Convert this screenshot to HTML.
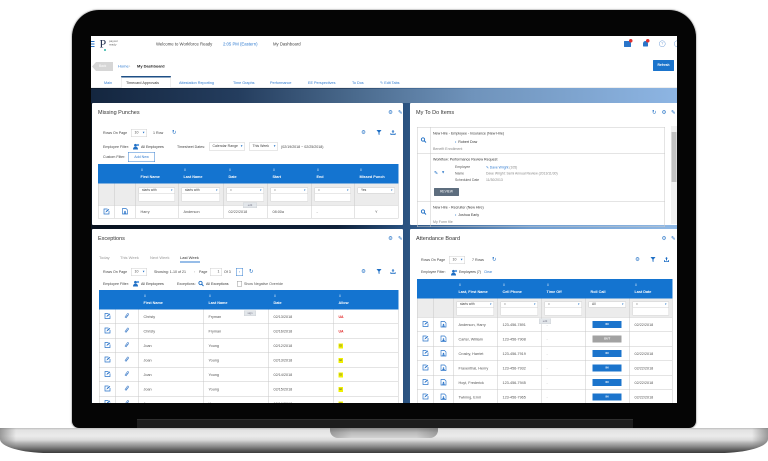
<!DOCTYPE html>
<html><head><meta charset="utf-8">
<style>
*{margin:0;padding:0;box-sizing:border-box}
html,body{width:768px;height:461px;background:#fff;overflow:hidden}
body{position:relative;font-family:"Liberation Sans","DejaVu Sans",sans-serif}
#bezel{position:absolute;left:72px;top:10px;width:624px;height:418px;background:#050505;border-radius:27px 27px 7px 7px;box-shadow:0 0 0 1px #d0d0d0,0 0 2px 1px #e6e6e6}
#hinge{position:absolute;left:137px;top:419px;width:496px;height:9px;background:#1d1d1d;border-top:1px solid #2f2f2f}
#base{position:absolute;left:0;top:428px;width:768px;height:25px;border-radius:0 0 48px 48px/0 0 14px 14px;background:linear-gradient(to bottom,#bdbdbd 0,#e2e2e2 2px,#ebebeb 8px,#dadada 12px,#b2b2b2 15px,#848484 19px,#505050 23px,#3a3a3a 25px);overflow:hidden}
#base:before{content:"";position:absolute;left:0;top:0;width:768px;height:25px;background:linear-gradient(to right,rgba(110,110,110,.65) 0,rgba(255,255,255,0) 16px,rgba(255,255,255,0) 752px,rgba(110,110,110,.65) 768px)}
#notch{position:absolute;left:330px;top:428px;width:108px;height:10px;border-radius:0 0 8px 8px;background:linear-gradient(to bottom,#8a8a8a 0,#b9b9b9 45%,#d2d2d2 100%)}
#notch:before{content:"";position:absolute;inset:0;border-radius:0 0 8px 8px;background:linear-gradient(to right,rgba(90,90,90,.35),rgba(255,255,255,0) 20%,rgba(255,255,255,0) 80%,rgba(90,90,90,.35))}
#screen{position:absolute;left:91px;top:36px;width:586px;height:367px;overflow:hidden;background:#0c1a30}
#s{position:absolute;left:0;top:0;width:1172px;height:734px;transform:scale(.5);transform-origin:0 0;font-size:7.2px;color:#555;background:linear-gradient(to right,#08121f 0%,#0f2139 42%,#28507e 53%,#6f9dd0 75%,#8fb8e4 100%)}
#s .a{position:absolute;white-space:nowrap;line-height:1}
.ic{position:absolute;color:#1f6fc5;font-family:"DejaVu Sans",sans-serif;line-height:1}
.pan{position:absolute;background:#fff;border-radius:2px}
.ttl{font-size:11px;color:#333}
.sel{position:absolute;height:16px;border:1px solid #cfcfcf;background:#fff;font-size:7px;color:#444;padding:3px 0 0 6px;line-height:1}
.sel i{position:absolute;right:4px;top:3px;font-style:normal;color:#1f6fc5;font-family:"DejaVu Sans",sans-serif;font-size:7px}
table{position:absolute;border-collapse:collapse;table-layout:fixed}
td{border:1px solid #c9c9c9;font-size:7.5px;color:#555;padding-left:10px;white-space:nowrap;overflow:hidden;background:#fff}
tr.h td{background:#1474d0;border-color:#1474d0;color:#fff;font-weight:bold;vertical-align:top;padding-top:7px}
tr.h .ar{font-size:7px;line-height:9px;height:9px;font-weight:normal;color:#cfe3f7;font-family:"DejaVu Sans",sans-serif;margin-bottom:4px}
tr.f td{background:#ececec;vertical-align:top;padding:8px 6px 0 6px}
.fs{position:relative;height:12px;background:#fff;border:1px solid #d0d0d0;font-size:6.5px;color:#444;padding:2px 0 0 6px;line-height:1}
.fs i{position:absolute;right:4px;top:2px;font-style:normal;color:#1f6fc5;font-family:"DejaVu Sans",sans-serif;font-size:6px}
.fi{height:16px;background:#fff;border:1px solid #d8d8d8;border-top:none}
td.c{padding-left:0;text-align:center}
.ua{color:#e02020;font-weight:bold;font-size:7px}
.ei{display:inline-block;background:#f0f000;color:#555;font-size:6px;width:9px;height:10px;line-height:10px;text-align:center}
.in{display:block;margin-left:14px;width:58px;height:14px;background:#1b74cc;color:#fff;font-size:6px;text-align:center;line-height:14px;font-weight:bold}
.out{background:#a2a2a2}
.tip{position:absolute;background:#e2e6ea;color:#778;font-size:5.5px;text-align:center;line-height:11px;height:11px;border:1px solid #d0d4d8}
</style></head><body>

<div id="bezel"></div>
<div id="hinge"></div>
<div id="base"></div>
<div id="notch"></div>

<div id="screen"><div id="s">
  <div class="a" style="left:0;top:0;width:1172px;height:104px;background:#fff;border-bottom:1px solid #dcdcdc"></div>
  <div class="a" style="left:0;top:10px;width:7px;height:2px;background:#2a74c9"></div>
  <div class="a" style="left:0;top:15px;width:7px;height:2px;background:#2a74c9"></div>
  <div class="a" style="left:0;top:20px;width:7px;height:2px;background:#2a74c9"></div>
  <div class="a" style="left:17px;top:4px;font-size:24px;color:#1f2d4d;font-family:'Liberation Serif',serif">P</div>
  <div class="a" style="left:26px;top:26px;width:4px;height:4px;border-radius:2px;background:#2bb3a3"></div>
  <div class="a" style="left:36px;top:8px;font-size:6px;color:#666;line-height:7px">paycor<br>ready</div>
  <div class="a" style="left:130px;top:12px;font-size:8.5px;color:#444">Welcome to Workforce Ready</div>
  <div class="a" style="left:264px;top:12px;font-size:8.5px;color:#2f7bd0">2:05 PM (Eastern)</div>
  <div class="a" style="left:364px;top:12px;font-size:8.5px;color:#444">My Dashboard</div>
  <div class="a" style="left:1066px;top:10px;width:14px;height:12px;background:#2a75c9;border-radius:1px"></div>
  <div class="a" style="left:1076px;top:6px;width:7px;height:7px;border-radius:4px;background:#e03030"></div>
  <div class="a" style="left:1104px;top:10px;width:10px;height:11px;background:#2a75c9;border-radius:5px 5px 1px 1px"></div>
  <div class="a" style="left:1110px;top:6px;width:7px;height:7px;border-radius:4px;background:#e03030"></div>
  <div class="a" style="left:1136px;top:9px;width:13px;height:13px;border-radius:7px;border:1.5px solid #6a9ad6;color:#6a9ad6;font-size:8px;text-align:center;line-height:10px">?</div>
  <div class="a" style="left:1166px;top:9px;width:13px;height:13px;border-radius:7px;border:1.5px solid #6a9ad6"></div>
  <div class="a" style="left:2px;top:52px;width:42px;height:18px;background:#d6d6d6;clip-path:polygon(8px 0,100% 0,100% 100%,8px 100%,0 50%);color:#fff;font-size:6.5px;padding:6px 0 0 14px">Back</div>
  <div class="a" style="left:54px;top:57px;font-size:8px;color:#2f7bd0">Home</div>
  <div class="a" style="left:76px;top:57px;font-size:8px;color:#999">›</div>
  <div class="a" style="left:92px;top:57px;font-size:8px;color:#222;font-weight:bold">My Dashboard</div>
  <div class="a" style="left:1124px;top:48px;width:42px;height:22px;background:#1b74cc;color:#fff;font-size:6.5px;font-weight:bold;text-align:center;line-height:22px;border-radius:1px">Refresh</div>
  <div class="a" style="left:60px;top:80px;width:100px;height:24px;background:#fff;border-top:3px solid #1e4f86;border-left:1px solid #ddd;border-right:1px solid #ddd"></div>
  <div class="a" style="left:26px;top:90px;font-size:7.5px;color:#2f7bd0">Main</div>
  <div class="a" style="left:70px;top:90px;font-size:7.5px;color:#333">Timecard Approvals</div>
  <div class="a" style="left:176px;top:90px;font-size:7.5px;color:#2f7bd0">Attestation Reporting</div>
  <div class="a" style="left:284px;top:90px;font-size:7.5px;color:#2f7bd0">Time Graphs</div>
  <div class="a" style="left:358px;top:90px;font-size:7.5px;color:#2f7bd0">Performance</div>
  <div class="a" style="left:434px;top:90px;font-size:7.5px;color:#2f7bd0">EE Perspectives</div>
  <div class="a" style="left:522px;top:90px;font-size:7.5px;color:#2f7bd0">To Dos</div>
  <div class="a" style="left:578px;top:90px;font-size:7.5px;color:#2f7bd0"><span style="font-family:'DejaVu Sans'">✎</span> Edit Tabs</div>
  <div class="a" style="left:0;top:105px;width:1172px;height:29px;background:linear-gradient(to right,#14263f 0%,#243d5e 25%,#4a6a8d 45%,#6f93bb 65%,#8db5e3 100%)"></div>

  <!-- MISSING PUNCHES -->
  <div class="pan" style="left:2px;top:134px;width:622px;height:244px"></div>
  <div class="a ttl" style="left:14px;top:148px">Missing Punches</div>
  <div class="ic" style="left:594px;top:147px;font-size:11px">⚙</div>
  <div class="ic" style="left:614px;top:147px;font-size:11px">✎</div>
  <div class="a" style="left:24px;top:190px;color:#444">Rows On Page</div>
  <div class="sel" style="left:80px;top:186px;width:32px">10<i>▾</i></div>
  <div class="a" style="left:124px;top:190px;color:#444">1 Row</div>
  <div class="ic" style="left:162px;top:187px;font-size:11px">↻</div>
  <div class="ic" style="left:540px;top:187px;font-size:11px">⚙</div>
  <svg class="a" style="left:570px;top:187px" width="12" height="12" viewBox="0 0 12 12"><path d="M1 1h10L7 6v5L5 10V6z" fill="#1f6fc5"/></svg>
  <svg class="a" style="left:598px;top:187px" width="12" height="12" viewBox="0 0 12 12"><path d="M6 1L3 4h2v4h2V4h2z M1 7v4h10V7h-1.5v2.5h-7V7z" fill="#1f6fc5"/></svg>
  <div class="a" style="left:24px;top:218px;color:#444">Employee Filter:</div>
  <svg class="a" style="left:84px;top:215px" width="14" height="12" viewBox="0 0 14 12"><circle cx="5" cy="3.5" r="2.8" fill="#1f6fc5"/><path d="M0 12c0-4 2-5.5 5-5.5s5 1.5 5 5.5z" fill="#1f6fc5"/><circle cx="10" cy="3" r="2.3" fill="#5b9be0"/></svg>
  <div class="a" style="left:100px;top:218px;color:#333">All Employees</div>
  <div class="a" style="left:172px;top:218px;color:#444">Timesheet Dates:</div>
  <div class="sel" style="left:236px;top:213px;width:72px">Calendar Range<i>▾</i></div>
  <div class="sel" style="left:316px;top:213px;width:58px">This Week<i>▾</i></div>
  <div class="a" style="left:380px;top:218px;color:#444">(02/19/2018 ~ 02/25/2018)</div>
  <div class="a" style="left:24px;top:238px;color:#444">Custom Filter:</div>
  <div class="a" style="left:74px;top:232px;width:54px;height:20px;border:1px solid #3a80d0;color:#2f7bd0;text-align:center;line-height:18px;font-size:7.2px">Add New</div>

  <table style="left:14px;top:256px;width:600px">
    <colgroup><col style="width:32px"><col style="width:42px"><col style="width:86px"><col style="width:90px"><col style="width:88px"><col style="width:88px"><col style="width:86px"><col style="width:88px"></colgroup>
    <tr class="h" style="height:38px"><td></td><td></td><td><div class="ar">⇕</div>First Name</td><td><div class="ar">⇕</div>Last Name</td><td><div class="ar">⇕</div>Date</td><td><div class="ar">⇕</div>Start</td><td><div class="ar">⇕</div>End</td><td><div class="ar">⇕</div>Missed Punch</td></tr>
    <tr class="f" style="height:44px"><td></td><td></td>
      <td><div class="fs">starts with<i>▾</i></div><div class="fi"></div></td>
      <td><div class="fs">starts with<i>▾</i></div><div class="fi"></div></td>
      <td><div class="fs">=<i>▾</i></div><div class="fi"></div></td>
      <td><div class="fs">=<i>▾</i></div><div class="fi"></div></td>
      <td><div class="fs">=<i>▾</i></div><div class="fi"></div></td>
      <td><div class="fs">Yes<i>▾</i></div></td></tr>
    <tr style="height:26px">
      <td class="c"><svg width="12" height="12" viewBox="0 0 12 12"><path d="M8 1H1v10h10V5" fill="none" stroke="#2a74c9" stroke-width="1.4"/><path d="M4 8l1-3 5-4 1.5 1.5-5 4z" fill="#2a74c9"/></svg></td>
      <td class="c"><svg width="12" height="13" viewBox="0 0 12 13"><path d="M1 1h7l3 3v8H1z" fill="none" stroke="#2a74c9" stroke-width="1.3"/><circle cx="6" cy="7" r="1.5" fill="#2a74c9"/><path d="M3.5 11c0-2 1-2.5 2.5-2.5s2.5.5 2.5 2.5z" fill="#2a74c9"/></svg></td>
      <td>Harry</td><td>Anderson</td><td>02/22/2018</td><td>08:00a</td><td>-</td><td class="c">Y</td></tr>
  </table>
  <div class="tip" style="left:304px;top:333px;width:28px">edit</div>

  <!-- MY TO DO -->
  <div class="pan" style="left:638px;top:134px;width:540px;height:244px"></div>
  <div class="a ttl" style="left:650px;top:148px">My To Do Items</div>
  <div class="ic" style="left:1122px;top:147px;font-size:11px">↻</div>
  <div class="ic" style="left:1141px;top:147px;font-size:11px">⚙</div>
  <div class="ic" style="left:1160px;top:147px;font-size:11px">✎</div>
  <div class="a" style="left:652px;top:182px;width:496px;height:200px;border:1px solid #c9c9c9"></div>
  <div class="a" style="left:678px;top:182px;width:1px;height:200px;background:#c9c9c9"></div>
  <div class="a" style="left:652px;top:234px;width:496px;height:1px;background:#c9c9c9"></div>
  <div class="a" style="left:652px;top:330px;width:496px;height:1px;background:#c9c9c9"></div>
  <svg class="a" style="left:659px;top:202px" width="12" height="12" viewBox="0 0 12 12"><circle cx="5" cy="5" r="3.3" fill="none" stroke="#1f6fc5" stroke-width="1.8"/><path d="M7.5 7.5L11 11" stroke="#1f6fc5" stroke-width="2"/></svg>
  <div class="a" style="left:684px;top:191px;font-size:7.2px;color:#333">New Hire - Employee - Insurance (New Hire)</div>
  <div class="a" style="left:728px;top:208px;font-size:7.2px;color:#333"><span style="color:#1f6fc5">•</span>&nbsp; Robert Dow</div>
  <div class="a" style="left:684px;top:222px;font-size:7.2px;color:#888">Benefit Enrollment</div>
  <div class="a" style="left:684px;top:243px;font-size:7.2px;color:#333">Workflow: Performance Review Request</div>
  <div class="ic" style="left:686px;top:270px;font-size:10px">✎</div>
  <div class="ic" style="left:702px;top:269px;font-size:9px">▾</div>
  <div class="a" style="left:728px;top:260px;font-size:6.8px;color:#555">Employee</div>
  <div class="a" style="left:790px;top:260px;font-size:6.8px;color:#2f7bd0"><span style="font-family:'DejaVu Sans'">✎</span> Dave Wright <span style="color:#888">(105)</span></div>
  <div class="a" style="left:728px;top:273px;font-size:6.8px;color:#555">Name</div>
  <div class="a" style="left:790px;top:273px;font-size:6.8px;color:#888">Dave Wright: Semi Annual Review (2013/11/30)</div>
  <div class="a" style="left:728px;top:286px;font-size:6.8px;color:#555">Scheduled Date</div>
  <div class="a" style="left:790px;top:286px;font-size:6.8px;color:#888">11/30/2013</div>
  <div class="a" style="left:686px;top:304px;width:50px;height:16px;background:#5d6d7e;color:#fff;font-size:6.5px;text-align:center;line-height:16px;border-radius:1px">REVIEW</div>
  <svg class="a" style="left:659px;top:346px" width="12" height="12" viewBox="0 0 12 12"><circle cx="5" cy="5" r="3.3" fill="none" stroke="#1f6fc5" stroke-width="1.8"/><path d="M7.5 7.5L11 11" stroke="#1f6fc5" stroke-width="2"/></svg>
  <div class="a" style="left:684px;top:339px;font-size:7.2px;color:#333">New Hire - Recruiter (New Hire)</div>
  <div class="a" style="left:728px;top:354px;font-size:7.2px;color:#333"><span style="color:#1f6fc5">•</span>&nbsp; Joshua Early</div>
  <div class="a" style="left:684px;top:368px;font-size:7.2px;color:#888">My Form file</div>
  <div class="a" style="left:1160px;top:180px;width:12px;height:196px;background:#f1f1f1"></div>
  <div class="a" style="left:1161px;top:192px;width:10px;height:100px;background:#c2c2c2"></div>

  <!-- EXCEPTIONS -->
  <div class="pan" style="left:2px;top:386px;width:622px;height:360px"></div>
  <div class="a ttl" style="left:14px;top:400px">Exceptions</div>
  <div class="ic" style="left:594px;top:399px;font-size:11px">⚙</div>
  <div class="ic" style="left:614px;top:399px;font-size:11px">✎</div>
  <div class="a" style="left:16px;top:440px;font-size:8px;color:#999">Today</div>
  <div class="a" style="left:58px;top:440px;font-size:8px;color:#999">This Week</div>
  <div class="a" style="left:118px;top:440px;font-size:8px;color:#999">Next Week</div>
  <div class="a" style="left:178px;top:440px;font-size:8px;color:#333">Last Week</div>
  <div class="a" style="left:178px;top:451px;width:40px;height:2px;background:#2f7bd0"></div>
  <div class="a" style="left:24px;top:468px;color:#444">Rows On Page</div>
  <div class="sel" style="left:80px;top:464px;width:32px">10<i>▾</i></div>
  <div class="a" style="left:126px;top:468px;color:#444">Showing: 1-10 of 21</div>
  <div class="a" style="left:206px;top:468px;color:#aaa">‹</div>
  <div class="a" style="left:216px;top:468px;color:#444">Page</div>
  <div class="sel" style="left:238px;top:464px;width:24px;text-align:right;padding-right:4px">1</div>
  <div class="a" style="left:266px;top:468px;color:#444">Of 3</div>
  <div class="a" style="left:290px;top:464px;width:14px;height:16px;border:1px solid #3a80d0;color:#2f7bd0;text-align:center;line-height:14px">›</div>
  <div class="ic" style="left:316px;top:465px;font-size:11px">↻</div>
  <div class="ic" style="left:540px;top:465px;font-size:11px">⚙</div>
  <svg class="a" style="left:570px;top:465px" width="12" height="12" viewBox="0 0 12 12"><path d="M1 1h10L7 6v5L5 10V6z" fill="#1f6fc5"/></svg>
  <svg class="a" style="left:598px;top:465px" width="12" height="12" viewBox="0 0 12 12"><path d="M6 1L3 4h2v4h2V4h2z M1 7v4h10V7h-1.5v2.5h-7V7z" fill="#1f6fc5"/></svg>
  <div class="a" style="left:24px;top:492px;color:#444">Employee Filter:</div>
  <svg class="a" style="left:84px;top:489px" width="14" height="12" viewBox="0 0 14 12"><circle cx="5" cy="3.5" r="2.8" fill="#1f6fc5"/><path d="M0 12c0-4 2-5.5 5-5.5s5 1.5 5 5.5z" fill="#1f6fc5"/><circle cx="10" cy="3" r="2.3" fill="#5b9be0"/></svg>
  <div class="a" style="left:100px;top:492px;color:#333">All Employees</div>
  <div class="a" style="left:172px;top:492px;color:#444">Exceptions:</div>
  <svg class="a" style="left:214px;top:489px" width="12" height="12" viewBox="0 0 12 12"><circle cx="5" cy="5" r="3.3" fill="none" stroke="#1f6fc5" stroke-width="1.8"/><path d="M7.5 7.5L11 11" stroke="#1f6fc5" stroke-width="2"/></svg>
  <div class="a" style="left:230px;top:492px;color:#333">All Exceptions</div>
  <div class="a" style="left:292px;top:490px;width:10px;height:11px;border:1px solid #999;background:#fff"></div>
  <div class="a" style="left:306px;top:492px;color:#555">Show Negative Override</div>

  <table style="left:16px;top:508px;width:598px">
    <colgroup><col style="width:32px"><col style="width:46px"><col style="width:130px"><col style="width:130px"><col style="width:130px"><col style="width:130px"></colgroup>
    <tr class="h" style="height:38px"><td></td><td></td><td><div class="ar">⇕</div>First Name</td><td><div class="ar">⇕</div>Last Name</td><td><div class="ar">⇕</div>Date</td><td><div class="ar">⇕</div>Allow</td></tr>
    <tr style="height:29px"><td class="c"><svg width="12" height="12" viewBox="0 0 12 12"><path d="M8 1H1v10h10V5" fill="none" stroke="#2a74c9" stroke-width="1.4"/><path d="M4 8l1-3 5-4 1.5 1.5-5 4z" fill="#2a74c9"/></svg></td><td class="c"><svg width="10" height="12" viewBox="0 0 10 12"><path d="M3 10L8 3.5a1.5 1.5 0 0 0-2.4-1.8L1.5 7.5a1 1 0 0 0 1.6 1.2L6.5 4" fill="none" stroke="#5a8fd0" stroke-width="1.3"/></svg></td><td>Christy</td><td>Fryman</td><td>02/13/2018</td><td><span class="ua">UA</span></td></tr>
    <tr style="height:29px"><td class="c"><svg width="12" height="12" viewBox="0 0 12 12"><path d="M8 1H1v10h10V5" fill="none" stroke="#2a74c9" stroke-width="1.4"/><path d="M4 8l1-3 5-4 1.5 1.5-5 4z" fill="#2a74c9"/></svg></td><td class="c"><svg width="10" height="12" viewBox="0 0 10 12"><path d="M3 10L8 3.5a1.5 1.5 0 0 0-2.4-1.8L1.5 7.5a1 1 0 0 0 1.6 1.2L6.5 4" fill="none" stroke="#5a8fd0" stroke-width="1.3"/></svg></td><td>Christy</td><td>Fryman</td><td>02/16/2018</td><td><span class="ua">UA</span></td></tr>
    <tr style="height:29px"><td class="c"><svg width="12" height="12" viewBox="0 0 12 12"><path d="M8 1H1v10h10V5" fill="none" stroke="#2a74c9" stroke-width="1.4"/><path d="M4 8l1-3 5-4 1.5 1.5-5 4z" fill="#2a74c9"/></svg></td><td class="c"><svg width="10" height="12" viewBox="0 0 10 12"><path d="M3 10L8 3.5a1.5 1.5 0 0 0-2.4-1.8L1.5 7.5a1 1 0 0 0 1.6 1.2L6.5 4" fill="none" stroke="#5a8fd0" stroke-width="1.3"/></svg></td><td>Joan</td><td>Young</td><td>02/12/2018</td><td><span class="ei">EI</span></td></tr>
    <tr style="height:29px"><td class="c"><svg width="12" height="12" viewBox="0 0 12 12"><path d="M8 1H1v10h10V5" fill="none" stroke="#2a74c9" stroke-width="1.4"/><path d="M4 8l1-3 5-4 1.5 1.5-5 4z" fill="#2a74c9"/></svg></td><td class="c"><svg width="10" height="12" viewBox="0 0 10 12"><path d="M3 10L8 3.5a1.5 1.5 0 0 0-2.4-1.8L1.5 7.5a1 1 0 0 0 1.6 1.2L6.5 4" fill="none" stroke="#5a8fd0" stroke-width="1.3"/></svg></td><td>Joan</td><td>Young</td><td>02/13/2018</td><td><span class="ei">EI</span></td></tr>
    <tr style="height:29px"><td class="c"><svg width="12" height="12" viewBox="0 0 12 12"><path d="M8 1H1v10h10V5" fill="none" stroke="#2a74c9" stroke-width="1.4"/><path d="M4 8l1-3 5-4 1.5 1.5-5 4z" fill="#2a74c9"/></svg></td><td class="c"><svg width="10" height="12" viewBox="0 0 10 12"><path d="M3 10L8 3.5a1.5 1.5 0 0 0-2.4-1.8L1.5 7.5a1 1 0 0 0 1.6 1.2L6.5 4" fill="none" stroke="#5a8fd0" stroke-width="1.3"/></svg></td><td>Joan</td><td>Young</td><td>02/14/2018</td><td><span class="ei">EI</span></td></tr>
    <tr style="height:29px"><td class="c"><svg width="12" height="12" viewBox="0 0 12 12"><path d="M8 1H1v10h10V5" fill="none" stroke="#2a74c9" stroke-width="1.4"/><path d="M4 8l1-3 5-4 1.5 1.5-5 4z" fill="#2a74c9"/></svg></td><td class="c"><svg width="10" height="12" viewBox="0 0 10 12"><path d="M3 10L8 3.5a1.5 1.5 0 0 0-2.4-1.8L1.5 7.5a1 1 0 0 0 1.6 1.2L6.5 4" fill="none" stroke="#5a8fd0" stroke-width="1.3"/></svg></td><td>Joan</td><td>Young</td><td>02/15/2018</td><td><span class="ei">EI</span></td></tr>
    <tr style="height:29px"><td class="c"><svg width="12" height="12" viewBox="0 0 12 12"><path d="M8 1H1v10h10V5" fill="none" stroke="#2a74c9" stroke-width="1.4"/><path d="M4 8l1-3 5-4 1.5 1.5-5 4z" fill="#2a74c9"/></svg></td><td class="c"><svg width="10" height="12" viewBox="0 0 10 12"><path d="M3 10L8 3.5a1.5 1.5 0 0 0-2.4-1.8L1.5 7.5a1 1 0 0 0 1.6 1.2L6.5 4" fill="none" stroke="#5a8fd0" stroke-width="1.3"/></svg></td><td>Joan</td><td>Young</td><td>02/16/2018</td><td><span class="ei">EI</span></td></tr>
  </table>
  <div class="tip" style="left:306px;top:549px;width:24px">sign</div>

  <!-- ATTENDANCE -->
  <div class="pan" style="left:638px;top:386px;width:540px;height:360px"></div>
  <div class="a ttl" style="left:650px;top:400px">Attendance Board</div>
  <div class="ic" style="left:1141px;top:399px;font-size:11px">⚙</div>
  <div class="ic" style="left:1160px;top:399px;font-size:11px">✎</div>
  <div class="a" style="left:660px;top:444px;color:#444">Rows On Page</div>
  <div class="sel" style="left:716px;top:440px;width:32px">10<i>▾</i></div>
  <div class="a" style="left:762px;top:444px;color:#444">7 Rows</div>
  <div class="ic" style="left:802px;top:441px;font-size:11px">↻</div>
  <div class="ic" style="left:1088px;top:441px;font-size:11px">⚙</div>
  <svg class="a" style="left:1118px;top:441px" width="12" height="12" viewBox="0 0 12 12"><path d="M1 1h10L7 6v5L5 10V6z" fill="#1f6fc5"/></svg>
  <svg class="a" style="left:1145px;top:441px" width="12" height="12" viewBox="0 0 12 12"><path d="M6 1L3 4h2v4h2V4h2z M1 7v4h10V7h-1.5v2.5h-7V7z" fill="#1f6fc5"/></svg>
  <div class="a" style="left:660px;top:470px;font-size:6.8px;color:#444">Employee Filter:</div>
  <svg class="a" style="left:720px;top:467px" width="14" height="12" viewBox="0 0 14 12"><circle cx="5" cy="3.5" r="2.8" fill="#1f6fc5"/><path d="M0 12c0-4 2-5.5 5-5.5s5 1.5 5 5.5z" fill="#1f6fc5"/><circle cx="10" cy="3" r="2.3" fill="#5b9be0"/></svg>
  <div class="a" style="left:736px;top:470px;font-size:6.8px;color:#333">Employees (7)</div>
  <div class="a" style="left:786px;top:470px;font-size:6.8px;color:#2f7bd0">Clear</div>

  <table style="left:652px;top:486px;width:510px">
    <colgroup><col style="width:32px"><col style="width:40px"><col style="width:88px"><col style="width:88px"><col style="width:88px"><col style="width:88px"><col style="width:86px"></colgroup>
    <tr class="h" style="height:38px"><td></td><td></td><td><div class="ar">⇕</div>Last, First Name</td><td><div class="ar">⇕</div>Cell Phone</td><td><div class="ar">⇕</div>Time Off</td><td><div class="ar"></div>Roll Call</td><td><div class="ar">⇕</div>Last Date</td></tr>
    <tr class="f" style="height:38px"><td style="padding:0"></td><td style="padding:0"></td>
      <td style="padding-top:6px"><div class="fs">starts with<i>▾</i></div><div class="fi"></div></td>
      <td style="padding-top:6px"><div class="fs">=<i>▾</i></div><div class="fi"></div></td>
      <td style="padding-top:6px"><div class="fs">=<i>▾</i></div><div class="fi"></div></td>
      <td style="padding-top:6px"><div class="fs">All<i>▾</i></div></td>
      <td style="padding-top:6px"><div class="fs">=<i>▾</i></div><div class="fi"></div></td></tr>
    <tr style="height:29px"><td class="c"><svg width="12" height="12" viewBox="0 0 12 12"><path d="M8 1H1v10h10V5" fill="none" stroke="#2a74c9" stroke-width="1.4"/><path d="M4 8l1-3 5-4 1.5 1.5-5 4z" fill="#2a74c9"/></svg></td><td class="c"><svg width="12" height="13" viewBox="0 0 12 13"><path d="M1 1h7l3 3v8H1z" fill="none" stroke="#2a74c9" stroke-width="1.3"/><circle cx="6" cy="7" r="1.5" fill="#2a74c9"/><path d="M3.5 11c0-2 1-2.5 2.5-2.5s2.5.5 2.5 2.5z" fill="#2a74c9"/></svg></td><td>Anderson, Harry</td><td>123-456-7891</td><td style="color:#aaa">-</td><td style="padding-left:0"><span class="in">IN</span></td><td>02/22/2018</td></tr>
    <tr style="height:29px"><td class="c"><svg width="12" height="12" viewBox="0 0 12 12"><path d="M8 1H1v10h10V5" fill="none" stroke="#2a74c9" stroke-width="1.4"/><path d="M4 8l1-3 5-4 1.5 1.5-5 4z" fill="#2a74c9"/></svg></td><td class="c"><svg width="12" height="13" viewBox="0 0 12 13"><path d="M1 1h7l3 3v8H1z" fill="none" stroke="#2a74c9" stroke-width="1.3"/><circle cx="6" cy="7" r="1.5" fill="#2a74c9"/><path d="M3.5 11c0-2 1-2.5 2.5-2.5s2.5.5 2.5 2.5z" fill="#2a74c9"/></svg></td><td>Carter, William</td><td>123-456-7908</td><td style="color:#aaa">-</td><td style="padding-left:0"><span class="in out">OUT</span></td><td></td></tr>
    <tr style="height:29px"><td class="c"><svg width="12" height="12" viewBox="0 0 12 12"><path d="M8 1H1v10h10V5" fill="none" stroke="#2a74c9" stroke-width="1.4"/><path d="M4 8l1-3 5-4 1.5 1.5-5 4z" fill="#2a74c9"/></svg></td><td class="c"><svg width="12" height="13" viewBox="0 0 12 13"><path d="M1 1h7l3 3v8H1z" fill="none" stroke="#2a74c9" stroke-width="1.3"/><circle cx="6" cy="7" r="1.5" fill="#2a74c9"/><path d="M3.5 11c0-2 1-2.5 2.5-2.5s2.5.5 2.5 2.5z" fill="#2a74c9"/></svg></td><td>Crosby, Harriet</td><td>123-456-7919</td><td style="color:#aaa">-</td><td style="padding-left:0"><span class="in">IN</span></td><td>02/22/2018</td></tr>
    <tr style="height:29px"><td class="c"><svg width="12" height="12" viewBox="0 0 12 12"><path d="M8 1H1v10h10V5" fill="none" stroke="#2a74c9" stroke-width="1.4"/><path d="M4 8l1-3 5-4 1.5 1.5-5 4z" fill="#2a74c9"/></svg></td><td class="c"><svg width="12" height="13" viewBox="0 0 12 13"><path d="M1 1h7l3 3v8H1z" fill="none" stroke="#2a74c9" stroke-width="1.3"/><circle cx="6" cy="7" r="1.5" fill="#2a74c9"/><path d="M3.5 11c0-2 1-2.5 2.5-2.5s2.5.5 2.5 2.5z" fill="#2a74c9"/></svg></td><td>Fraxenthal, Henry</td><td>123-456-7932</td><td style="color:#aaa">-</td><td style="padding-left:0"><span class="in">IN</span></td><td>02/22/2018</td></tr>
    <tr style="height:29px"><td class="c"><svg width="12" height="12" viewBox="0 0 12 12"><path d="M8 1H1v10h10V5" fill="none" stroke="#2a74c9" stroke-width="1.4"/><path d="M4 8l1-3 5-4 1.5 1.5-5 4z" fill="#2a74c9"/></svg></td><td class="c"><svg width="12" height="13" viewBox="0 0 12 13"><path d="M1 1h7l3 3v8H1z" fill="none" stroke="#2a74c9" stroke-width="1.3"/><circle cx="6" cy="7" r="1.5" fill="#2a74c9"/><path d="M3.5 11c0-2 1-2.5 2.5-2.5s2.5.5 2.5 2.5z" fill="#2a74c9"/></svg></td><td>Hoyt, Frederick</td><td>123-456-7945</td><td style="color:#aaa">-</td><td style="padding-left:0"><span class="in">IN</span></td><td>02/22/2018</td></tr>
    <tr style="height:29px"><td class="c"><svg width="12" height="12" viewBox="0 0 12 12"><path d="M8 1H1v10h10V5" fill="none" stroke="#2a74c9" stroke-width="1.4"/><path d="M4 8l1-3 5-4 1.5 1.5-5 4z" fill="#2a74c9"/></svg></td><td class="c"><svg width="12" height="13" viewBox="0 0 12 13"><path d="M1 1h7l3 3v8H1z" fill="none" stroke="#2a74c9" stroke-width="1.3"/><circle cx="6" cy="7" r="1.5" fill="#2a74c9"/><path d="M3.5 11c0-2 1-2.5 2.5-2.5s2.5.5 2.5 2.5z" fill="#2a74c9"/></svg></td><td>Twining, Emil</td><td>123-456-7965</td><td style="color:#aaa">-</td><td style="padding-left:0"><span class="in">IN</span></td><td>02/22/2018</td></tr>
  </table>
  <div class="tip" style="left:896px;top:565px;width:24px">edit</div>
</div></div>

</body></html>
